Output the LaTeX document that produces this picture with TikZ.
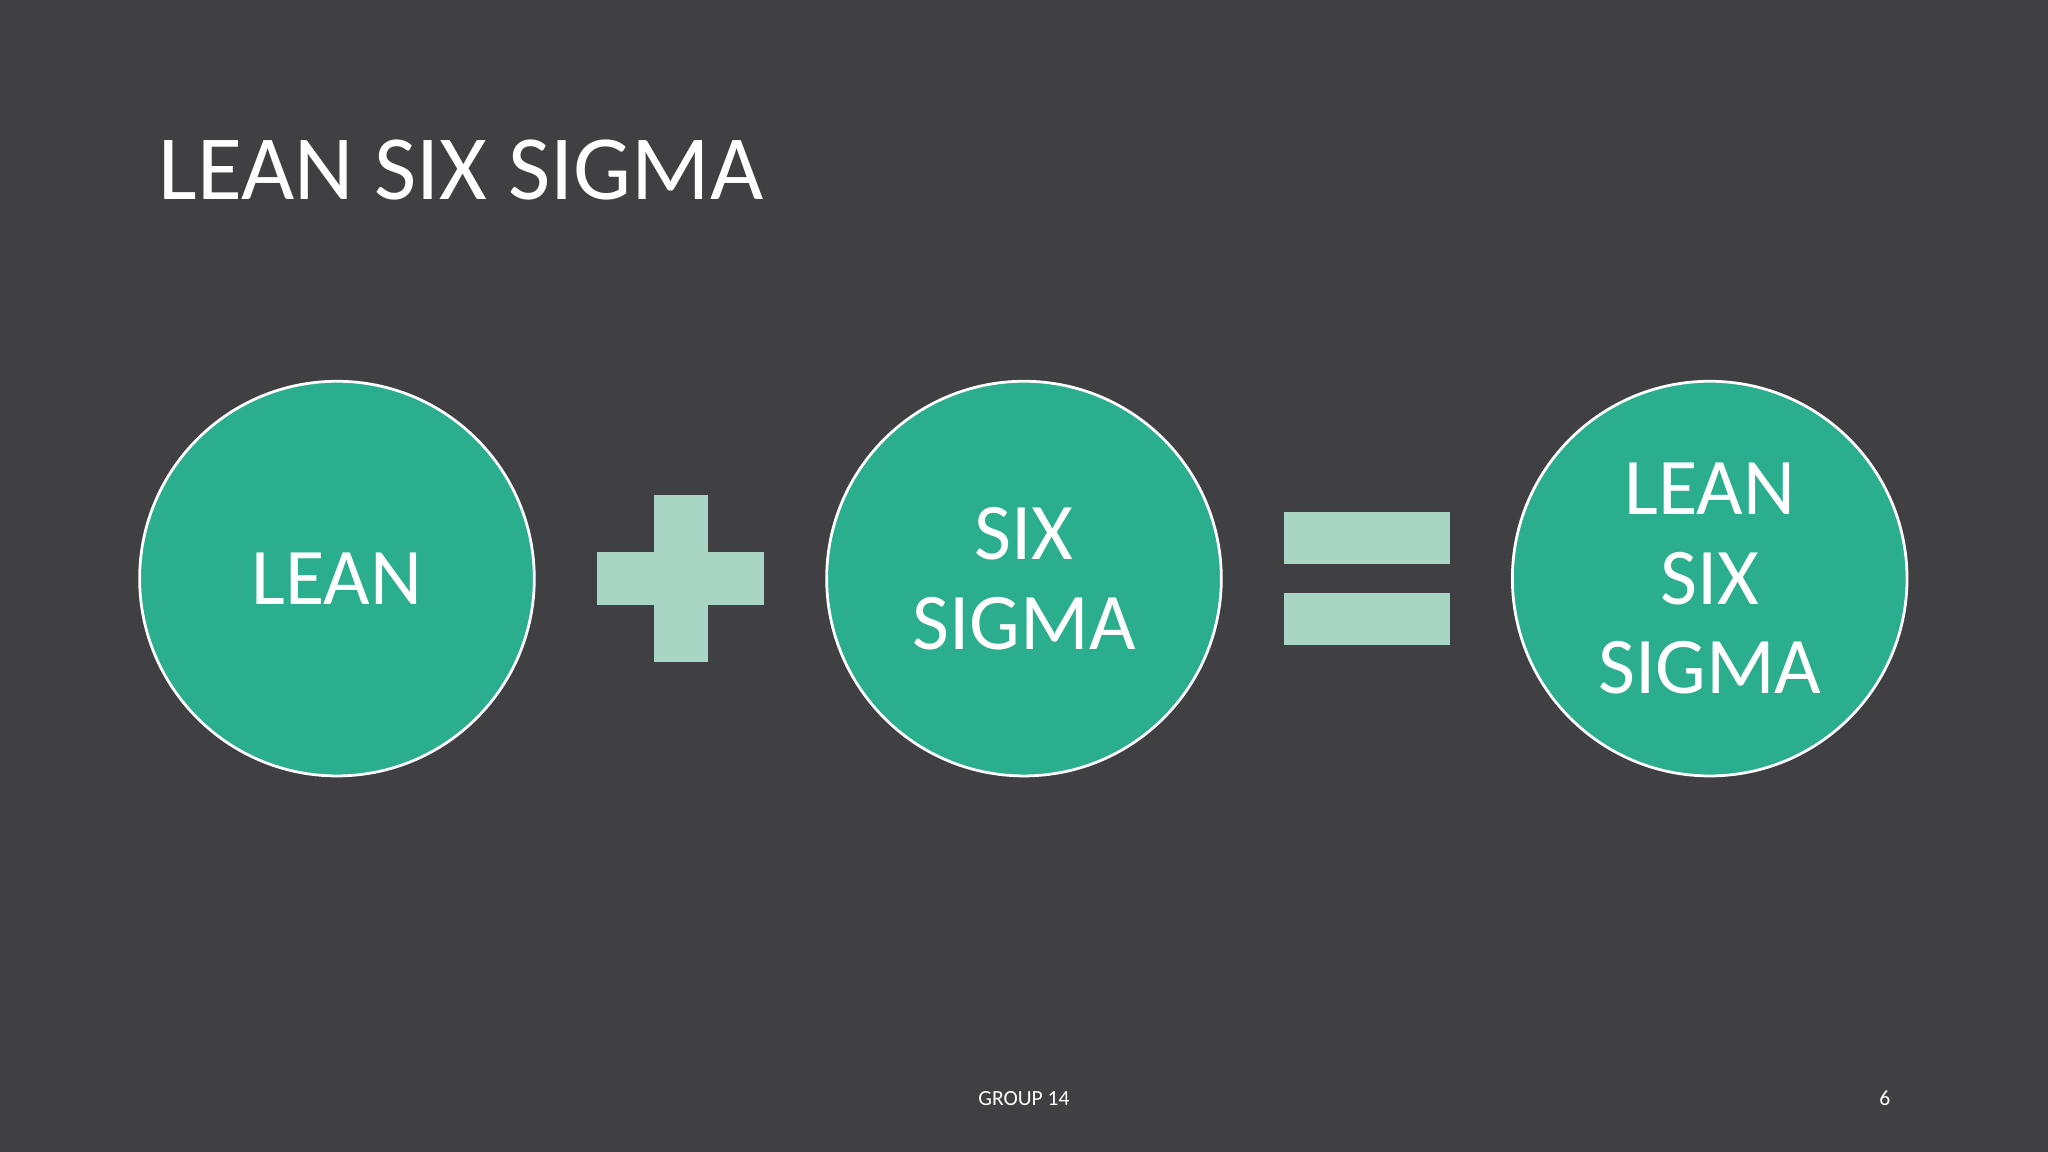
\documentclass[tikz,border=0pt]{standalone}
\usepackage{fontspec}
\setmainfont{Carlito}
\definecolor{bg}{HTML}{404042}
\definecolor{teal}{HTML}{2AAE8D}
\definecolor{pale}{HTML}{A9D5C4}
\begin{document}
\begin{tikzpicture}[yscale=-1,x=0.01cm,y=0.01cm,
  circ/.style={circle,draw=white,line width=0.6pt,fill=teal,minimum size=3.02cm,inner sep=0pt,text=white,align=center,font=\fontsize{17.5}{19.5}\selectfont},
  bar/.style={fill=pale}]
\fill[bg] (0,0) rectangle (1568,882);
\useasboundingbox (0,0) rectangle (1568,882);
\node[anchor=base west,text=white,font=\fontsize{20}{24}\selectfont,inner sep=0pt] (title) at (121,153) {LEAN SIX SIGMA};
\node[circ] (lean) at (258,443) {LEAN};
\node[circ] (six) at (784,443) {SIX\\SIGMA};
\node[circ] (lss) at (1309,443) {LEAN\\SIX\\SIGMA};
\fill[bar] (501,379) rectangle (542,507);
\fill[bar] (457,423) rectangle (585,463);
\fill[bar] (983,392) rectangle (1110,432);
\fill[bar] (983,454) rectangle (1110,494);
\node[text=white,font=\fontsize{4.7}{6}\selectfont,inner sep=0pt] (foot) at (784,841) {GROUP 14};
\node[text=white,font=\fontsize{4.7}{6}\selectfont,inner sep=0pt] (num) at (1443,841) {6};
\end{tikzpicture}
\end{document}
